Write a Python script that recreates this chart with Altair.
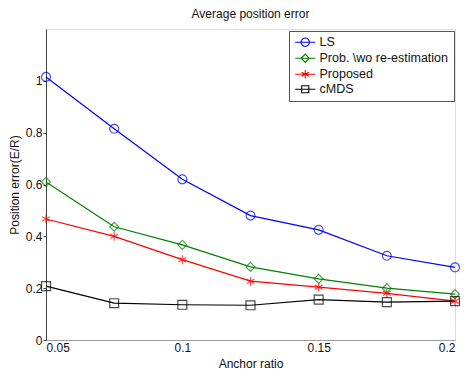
import altair as alt
import pandas as pd

x_vals = [0.05, 0.075, 0.1, 0.125, 0.15, 0.175, 0.2]
series_names = ["LS", "Prob. \\wo re-estimation", "Proposed", "cMDS"]
ls_vals = [1.015, 0.815, 0.62, 0.48, 0.425, 0.325, 0.28]
prob_vals = [0.61, 0.437, 0.367, 0.282, 0.236, 0.2, 0.177]
prop_vals = [0.467, 0.4, 0.31, 0.227, 0.204, 0.18, 0.15]
cmds_vals = [0.208, 0.142, 0.136, 0.134, 0.156, 0.146, 0.15]
colors = ["#0000ff", "#008000", "#ff0000", "#000000"]
asterisk = "M0,-1L0,1M-0.87,-0.5L0.87,0.5M-0.87,0.5L0.87,-0.5"
shapes = ["circle", "diamond", asterisk, "square"]

# legend symbols: marker with a short line through it
seg = "M-2.4,0L2.4,0"
legend_shapes = [
    seg + "M-1,0A1,1 0 1,1 1,0A1,1 0 1,1 -1,0",
    seg + "M0,-1L1,0L0,1L-1,0Z",
    seg + "M0,-1L0,1M-0.87,-0.5L0.87,0.5M-0.87,0.5L0.87,-0.5",
    seg + "M-0.85,-0.85L0.85,-0.85L0.85,0.85L-0.85,0.85Z",
]

rows = []
for name, vals in zip(series_names, [ls_vals, prob_vals, prop_vals, cmds_vals]):
    for xv, yv in zip(x_vals, vals):
        rows.append({"x": xv, "y": yv, "series": name, "leg": name})
df = pd.DataFrame(rows)

font = "Liberation Sans"
xenc = alt.X("x:Q", scale=alt.Scale(domain=[0.05, 0.2], nice=False, zero=False),
             axis=alt.Axis(title="Anchor ratio", values=[0.05, 0.1, 0.15, 0.2],
                           format="~g", grid=False, domainColor="#999999",
                           ticks=False, labelPadding=2, titlePadding=5,
                           labelFont=font, titleFont=font, labelFontSize=12,
                           titleFontSize=12, titleFontWeight="normal",
                           labelColor="#111", titleColor="#111"))
yenc = alt.Y("y:Q", scale=alt.Scale(domain=[0, 1.2], nice=False),
             axis=alt.Axis(title="Position error(E/R)", values=[0, 0.2, 0.4, 0.6, 0.8, 1],
                           format="~g", grid=False, domainColor="#444444",
                           tickSize=3, tickColor="#444444", labelPadding=1, titlePadding=4,
                           labelFont=font, titleFont=font, labelFontSize=12,
                           titleFontSize=12, titleFontWeight="normal",
                           labelColor="#111", titleColor="#111"))
cscale = alt.Scale(domain=series_names, range=colors)

leg = alt.Legend(title=None, orient="none", legendX=243, legendY=2,
                 strokeColor="#555555", fillColor="white",
                 padding=5, labelFont=font, labelFontSize=12.5,
                 labelColor="#111", symbolStrokeWidth=1.1,
                 symbolSize=70, symbolOpacity=1, symbolOffset=5,
                 symbolFillColor="transparent",
                 rowPadding=2, labelOffset=8)

lines = alt.Chart(df).mark_line(strokeWidth=1.2).encode(
    x=xenc, y=yenc, color=alt.Color("series:N", scale=cscale, legend=None))
points = alt.Chart(df).mark_point(filled=False, size=80, strokeWidth=1.2).encode(
    x=xenc, y=yenc,
    color=alt.Color("series:N", scale=cscale, legend=None),
    shape=alt.Shape("series:N", scale=alt.Scale(domain=series_names, range=shapes), legend=None))
legend_layer = alt.Chart(df).mark_point(filled=False, size=70, strokeWidth=1.1, opacity=0).encode(
    x=xenc, y=yenc,
    color=alt.Color("leg:N", scale=alt.Scale(domain=series_names, range=colors), legend=leg),
    shape=alt.Shape("leg:N", scale=alt.Scale(domain=series_names, range=legend_shapes), legend=leg))

chart = alt.layer(lines, points, legend_layer).resolve_scale(
    shape="independent", color="independent").properties(
    width=409, height=311,
    title=alt.TitleParams("Average position error", font=font, fontSize=12,
                          fontWeight="normal", color="#111", offset=8, anchor="middle"),
    autosize=alt.AutoSizeParams(type="none"),
    padding={"left": 38, "top": 21, "right": 10, "bottom": 30},
).configure_view(stroke=None).configure(background="white")

chart.save("out.html", embed_options={"renderer": "svg", "actions": False})
